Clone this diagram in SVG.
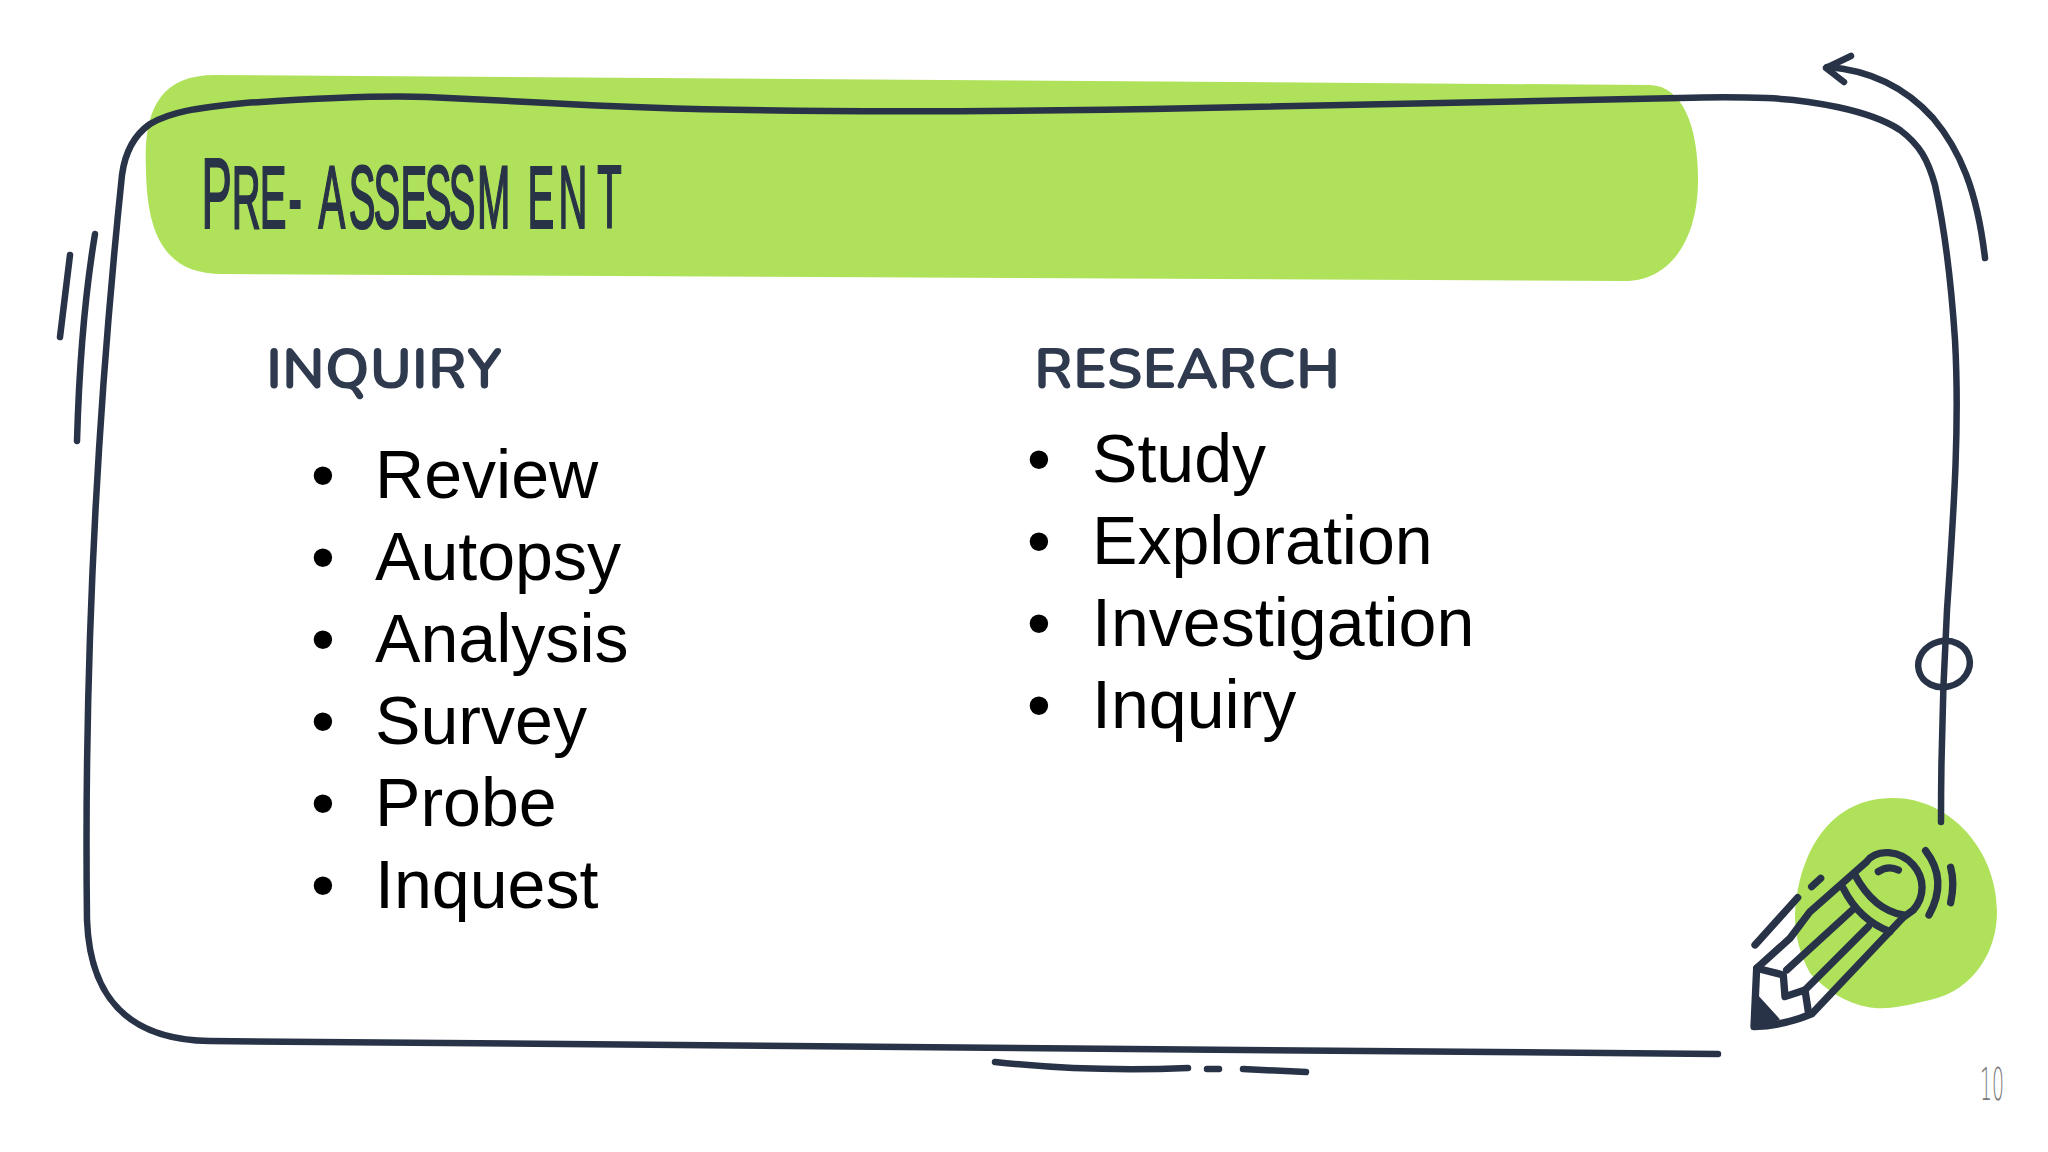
<svg xmlns="http://www.w3.org/2000/svg" width="2048" height="1152" viewBox="0 0 2048 1152">
<style>
.green{fill:#afe25a}
.ink{fill:none;stroke:#283347;stroke-linecap:round;stroke-linejoin:round}
.frame{stroke-width:6.5}
.pen{stroke-width:22}
.head{font-family:"Nunito","Open Sans","Liberation Sans",sans-serif;font-weight:700;font-size:55px;fill:#2f3a4f}
.item{font-family:"Liberation Sans",Arial,sans-serif;font-size:68.1px;fill:#000}
.title{font-family:"Liberation Sans Narrow","Liberation Sans",sans-serif;fill:#283347;stroke:#283347;stroke-width:2.2;font-size:89px}
.num{font-family:"DejaVu Sans",sans-serif;font-weight:200;font-size:44px;fill:#777}
</style>
<rect width="2048" height="1152" fill="#fff"/>
<g id="banner">
<path class="green" d="M215,75 L1650,85 C1682,86 1698,125 1698,180 C1698,240 1670,281 1625,281 L225,274 C172,275 147,245 146,170 C143,110 160,75 215,75 Z"/>
<g id="title"><text class="title" transform="translate(0,228) scale(.45,1)"><tspan x="448" style="font-size:101px">P</tspan><tspan x="515 577 641 708 775 830 890 944 997 1060 1172 1241 1327">RE-ASSESSMENT</tspan></text></g>
</g>
<g id="blob"><path class="green" d="M1893,798 C1950,798 1997,850 1997,912 C1997,950 1975,990 1930,1000 C1905,1006 1890,1009 1875,1008 C1850,1006 1825,990 1810,973 C1800,955 1795,935 1795,917 C1797,860 1825,798 1893,798 Z"/></g>
<g id="connectors">
<path class="ink frame" d="M1718,1054 L210,1041 C130,1040 90,1000 87,920 C85,760 88,500 122,175 C124,160 130,138 150,124 C170,112 195,108 245,103 C290,100 380,95 427,97 L548,103 C700,112 900,114 1200,108 L1680,98 C1710,97 1740,97 1767,98 C1810,100 1870,110 1900,130 C1920,145 1928,160 1935,185 C1945,230 1951,280 1955,340 C1960,430 1953,520 1947,610 C1943,680 1941,750 1941,822"/>
<path class="ink frame" d="M1985,258 C1977,190 1960,150 1933,118 C1905,87 1870,70 1827,67"/>
<path class="ink frame" d="M1851,56 L1826,68 L1844,82"/>
<ellipse class="ink frame" cx="1944" cy="664" rx="26" ry="23" transform="rotate(-15 1944 664)"/>
<path class="ink frame" d="M60,337 L70,255"/>
<path class="ink frame" d="M77,441 C79,370 84,300 95,234"/>
<path class="ink frame" d="M995,1062 C1060,1069 1120,1071 1188,1068"/>
<path class="ink frame" d="M1207,1069 L1219,1069"/>
<path class="ink frame" d="M1243,1069 L1306,1072"/>
</g>
<g id="pencil" transform="translate(1680,760) scale(.3333)">
<path d="M232,708 L296,778 L222,802 Z" fill="#283347" stroke="#283347" stroke-width="6" stroke-linejoin="round"/>
<path class="ink pen" d="M230,625 L330,535 L390,455 L560,305 C590,265 660,270 700,315 C735,355 735,410 700,450 L670,472 L395,762 C340,785 280,798 222,800 Z"/>
<path class="ink pen" d="M230,625 L310,645 L315,710 L375,690 L385,755"/>
<path class="ink pen" d="M320,630 L515,452"/>
<path class="ink pen" d="M375,690 L565,500"/>
<path class="ink pen" d="M490,385 C520,445 565,490 630,515"/>
<path class="ink pen" d="M525,345 C560,410 610,455 670,465"/>
<path class="ink pen" d="M595,335 Q625,315 655,330"/>
<path class="ink pen" d="M737,272 Q805,360 747,465"/>
<path class="ink pen" d="M812,322 Q825,370 812,428"/>
<path class="ink pen" d="M395,380 L422,355"/>
<path class="ink pen" d="M225,555 L353,413"/>
</g>
<g id="inquiry">
<text class="head" x="266" y="388" textLength="236" lengthAdjust="spacingAndGlyphs">INQUIRY</text>
<g class="item">
<text x="311" y="498">•</text><text x="375" y="498">Review</text>
<text x="311" y="580">•</text><text x="375" y="580">Autopsy</text>
<text x="311" y="662">•</text><text x="375" y="662">Analysis</text>
<text x="311" y="744">•</text><text x="375" y="744">Survey</text>
<text x="311" y="826">•</text><text x="375" y="826">Probe</text>
<text x="311" y="908">•</text><text x="375" y="908">Inquest</text>
</g>
</g>
<g id="research">
<text class="head" x="1034" y="388" textLength="306" lengthAdjust="spacingAndGlyphs">RESEARCH</text>
<g class="item">
<text x="1027" y="482">•</text><text x="1092" y="482">Study</text>
<text x="1027" y="564">•</text><text x="1092" y="564">Exploration</text>
<text x="1027" y="646">•</text><text x="1092" y="646">Investigation</text>
<text x="1027" y="728">•</text><text x="1092" y="728">Inquiry</text>
</g>
</g>
<g id="page"><text class="num" x="1980" y="1100" textLength="24" lengthAdjust="spacingAndGlyphs">10</text></g>
</svg>
